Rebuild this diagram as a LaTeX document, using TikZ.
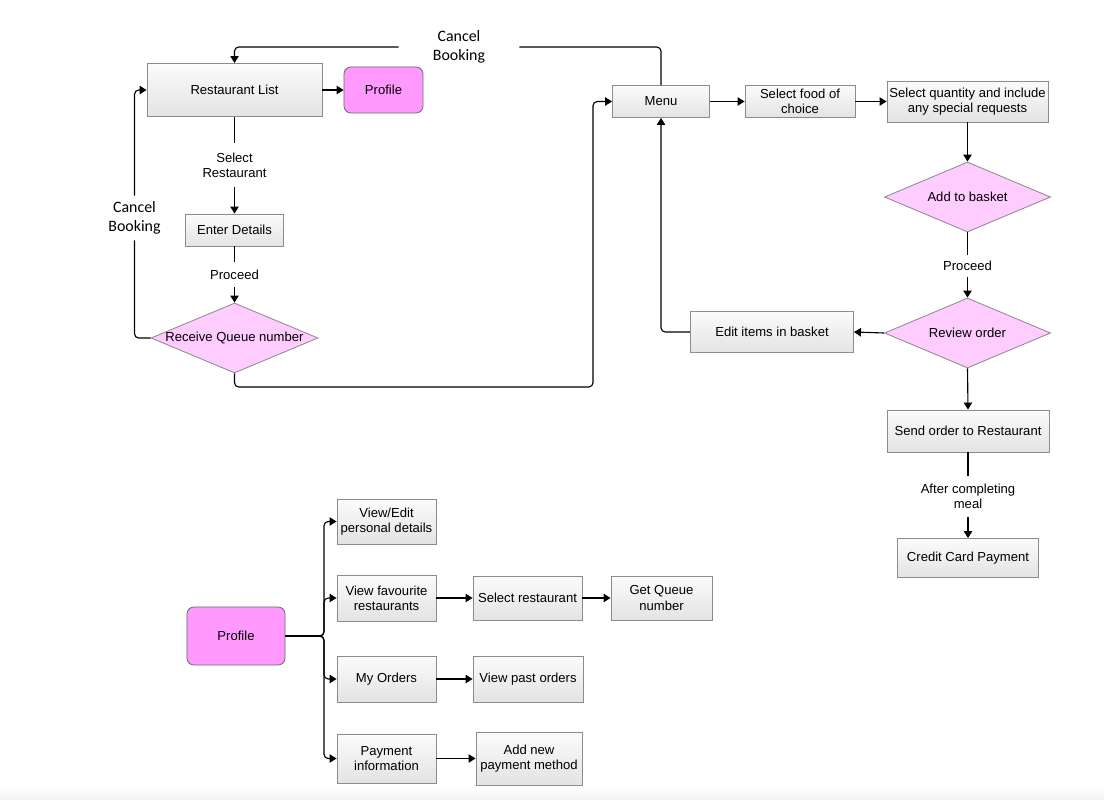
\documentclass[tikz,border=0pt]{standalone}
\usepackage{fontspec}
\setmainfont{Liberation Sans}
\newfontfamily\calib{Carlito}
\usetikzlibrary{shapes.geometric,arrows.meta}
\definecolor{boxline}{RGB}{140,140,140}
\definecolor{pinkfill}{RGB}{255,204,255}
\definecolor{magfill}{RGB}{255,153,255}
\definecolor{magline}{RGB}{110,110,110}
\begin{document}
\begin{tikzpicture}[x=0.025cm,y=-0.025cm,
  txt/.style={font=\fontsize{9.3}{10.7}\selectfont, align=center},
  gbox/.style={txt, draw=boxline, line width=0.6pt, top color=gray!3, bottom color=gray!22, inner sep=0pt},
  mbox/.style={txt, draw=magline, line width=0.6pt, fill=magfill, rounded corners=5pt, inner sep=0pt},
  dia/.style={shape=diamond, draw=boxline, line width=0.6pt, fill=pinkfill, inner sep=0pt},
  lbl/.style={txt, inner sep=0pt},
  cblbl/.style={font=\calib\fontsize{11.3}{13.5}\selectfont, align=center, inner sep=0pt},
  conn/.style={line width=0.8pt, rounded corners=3pt},
  arr/.style={-{Triangle[length=5pt,width=6pt]}}
]
\useasboundingbox (0,0) rectangle (1104,800);
\fill[top color=white, bottom color=gray!10] (0,786) rectangle (1104,800);

% top-left flow
\node[gbox, minimum width=4.375cm, minimum height=1.325cm] (rl) at (234.5,90) {Restaurant List};
\node[mbox, minimum width=1.975cm, minimum height=1.15cm] (pf1) at (383.5,90) {Profile};
\node[lbl, minimum height=1.1cm] (selr) at (234.5,165) {Select\\Restaurant};
\node[gbox, minimum width=2.45cm, minimum height=0.8cm] (ed) at (234.5,230) {Enter Details};
\node[lbl, minimum height=0.625cm] (pr1) at (234.5,274.5) {Proceed};
\node[dia, minimum width=4.175cm, minimum height=1.75cm, label={[txt]center:Receive Queue number}] (rq) at (234.5,338) {};
\node[cblbl, minimum width=3cm] (cbt) at (459,47) {Cancel\\Booking};
\node[cblbl, minimum height=1.1cm] (cbl) at (134.5,218) {Cancel\\Booking};

% top-right flow
\node[gbox, minimum width=2.425cm, minimum height=0.8cm] (menu) at (661,101.5) {Menu};
\node[gbox, minimum width=2.75cm, minimum height=0.8cm] (sf) at (800,101.5) {Select food of\\choice};
\node[gbox, minimum width=4.025cm, minimum height=1.025cm] (sq) at (967.5,101.5) {Select quantity and include\\any special requests};
\node[dia, minimum width=4.15cm, minimum height=1.75cm, label={[txt]center:Add to basket}] (ab) at (967.5,197) {};
\node[lbl, minimum height=0.55cm] (pr2) at (967.5,266) {Proceed};
\node[dia, minimum width=4.15cm, minimum height=1.75cm, label={[txt]center:Review order}] (ro) at (967.5,333) {};
\node[gbox, minimum width=4.075cm, minimum height=1.025cm] (ei) at (772,332) {Edit items in basket};
\node[gbox, minimum width=4.05cm, minimum height=1.05cm] (so) at (968,431) {Send order to Restaurant};
\node[lbl, minimum height=1.025cm] (acm) at (968,496.5) {After completing\\meal};
\node[gbox, minimum width=3.525cm, minimum height=0.975cm] (cc) at (968,558) {Credit Card Payment};

% profile tree
\node[mbox, minimum width=2.45cm, minimum height=1.45cm] (pf2) at (236,636) {Profile};
\node[gbox, minimum width=2.475cm, minimum height=1.125cm] (ve) at (386.5,521.5) {View/Edit\\personal details};
\node[gbox, minimum width=2.475cm, minimum height=1.15cm] (vf) at (386.5,598) {View favourite\\restaurants};
\node[gbox, minimum width=2.725cm, minimum height=1.1cm] (sr) at (527.5,598) {Select restaurant};
\node[gbox, minimum width=2.525cm, minimum height=1.1cm] (gq) at (661.5,598) {Get Queue\\number};
\node[gbox, minimum width=2.475cm, minimum height=1.15cm] (mo) at (386.5,679) {My Orders};
\node[gbox, minimum width=2.75cm, minimum height=1.15cm] (vp) at (528,679) {View past orders};
\node[gbox, minimum width=2.475cm, minimum height=1.225cm] (pi) at (386.5,758.5) {Payment\\information};
\node[gbox, minimum width=2.65cm, minimum height=1.325cm] (an) at (529,758.5) {Add new\\payment method};

\coordinate (c1) at (593,387);
\coordinate (br) at (324,636);

% connectors top-left
\draw[conn,arr] (rl.east) -- (pf1.west);
\draw[conn] (rl.south) -- (selr.north);
\draw[conn,arr] (selr.south) -- (ed.north);
\draw[conn] (ed.south) -- (pr1.north);
\draw[conn,arr] (pr1.south) -- (rq.north);
\draw[conn] (rq.west) -| (cbl.south);
\draw[conn,arr] (cbl.north) |- (rl.west);
\draw[conn,arr] (rq.south) |- (c1) |- (menu.west);
\draw[conn] (menu.north) |- (cbt.east);
\draw[conn,arr] (cbt.west) -| (rl.north);

% connectors top-right
\draw[conn,arr] (menu.east) -- (sf.west);
\draw[conn,arr] (sf.east) -- (sq.west);
\draw[conn,arr] (sq.south) -- (ab.north);
\draw[conn] (ab.south) -- (pr2.north);
\draw[conn,arr] (pr2.south) -- (ro.north);
\draw[conn,arr] (ro.west) -- (ei.east);
\draw[conn,arr] (ei.west) -| (menu.south);
\draw[conn,arr] (ro.south) -- (so.north);
\draw[conn] (so.south) -- (acm.north);
\draw[conn,arr] (acm.south) -- (cc.north);

% connectors profile tree
\draw[conn,arr] (pf2.east) -- (br) |- (ve.west);
\draw[conn,arr] (pf2.east) -- (br) |- (vf.west);
\draw[conn,arr] (pf2.east) -- (br) |- (mo.west);
\draw[conn,arr] (pf2.east) -- (br) |- (pi.west);
\draw[conn,arr] (vf.east) -- (sr.west);
\draw[conn,arr] (sr.east) -- (gq.west);
\draw[conn,arr] (mo.east) -- (vp.west);
\draw[conn,arr] (pi.east) -- (an.west);
\end{tikzpicture}
\end{document}
